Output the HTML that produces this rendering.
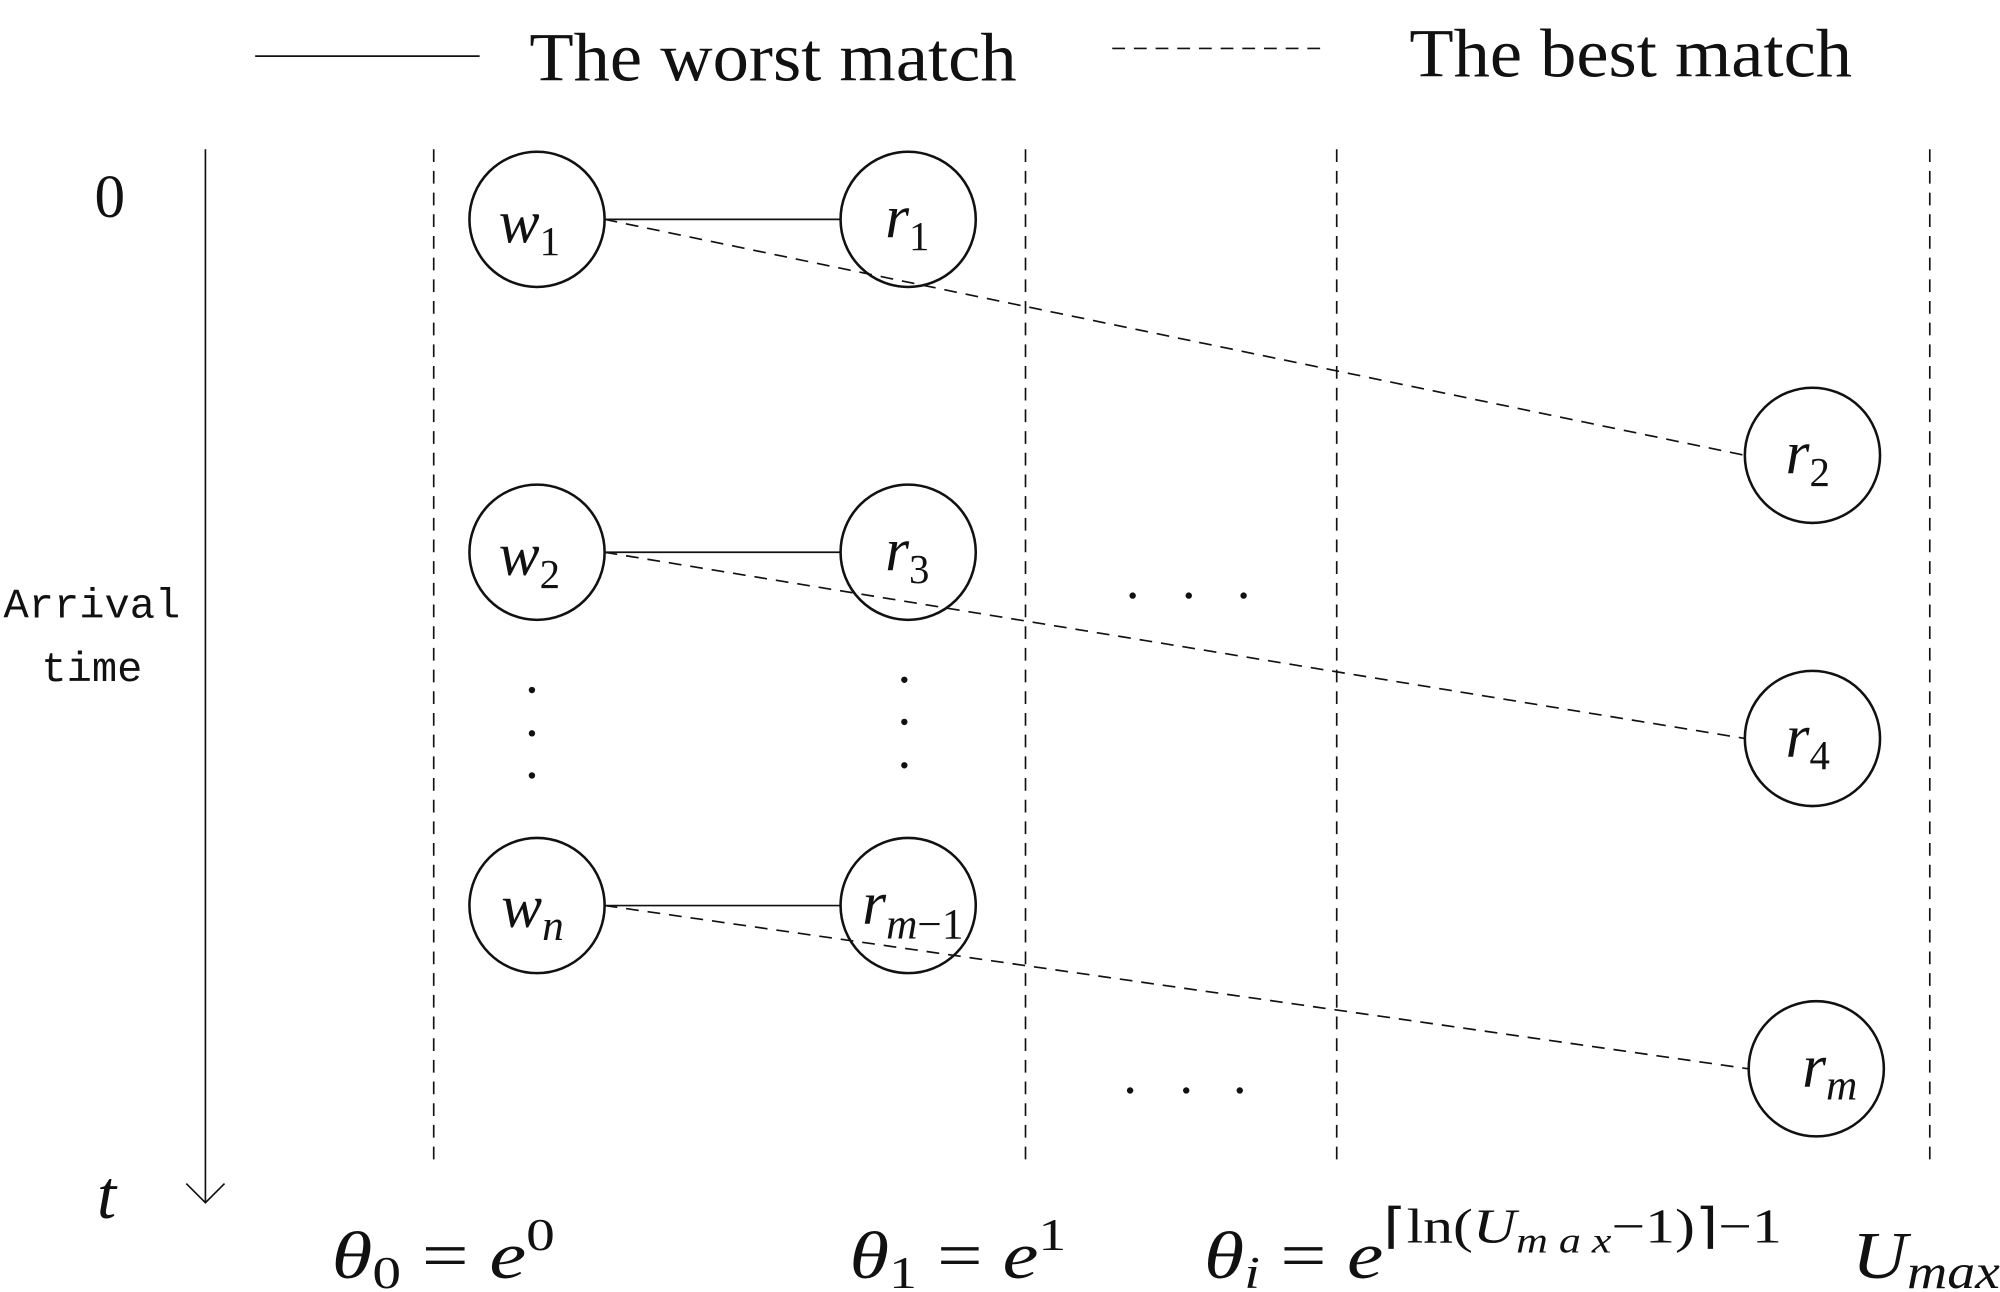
<!DOCTYPE html>
<html><head><meta charset="utf-8"><style>
html,body{margin:0;padding:0;background:#fff;}
svg{display:block;}
text{fill:#111;}
.s{font-family:"Liberation Serif",serif;}
.i{font-family:"Liberation Serif",serif;font-style:italic;}
.m{font-family:"Liberation Mono",monospace;}
.u{font-style:normal;}
</style></head><body>
<svg width="2000" height="1292" viewBox="0 0 1568 1013" xmlns="http://www.w3.org/2000/svg">
<g stroke="#111" stroke-width="1.3" fill="none">
<line x1="200" y1="44" x2="376" y2="44"/>
<line x1="872" y1="38" x2="1042" y2="38" stroke-dasharray="10,7"/>
<line x1="161" y1="117" x2="161" y2="943"/>
<polyline points="146,928 161,943 176,928"/>
<g stroke-dasharray="10,7">
<line x1="340" y1="117" x2="340" y2="915"/>
<line x1="804" y1="117" x2="804" y2="915"/>
<line x1="1048" y1="117" x2="1048" y2="915"/>
<line x1="1513" y1="117" x2="1513" y2="915"/>
<line x1="474" y1="172" x2="1368" y2="357"/>
<line x1="474" y1="433" x2="1368" y2="579"/>
<line x1="474" y1="710" x2="1371" y2="838"/>
</g>
<line x1="474" y1="172" x2="659" y2="172"/>
<line x1="474" y1="433" x2="659" y2="433"/>
<line x1="474" y1="710" x2="659" y2="710"/>
<g stroke-width="2">
<circle cx="421" cy="172" r="53"/><circle cx="712" cy="172" r="53"/>
<circle cx="1421" cy="357" r="53"/><circle cx="421" cy="433" r="53"/>
<circle cx="712" cy="433" r="53"/><circle cx="1421" cy="579" r="53"/>
<circle cx="421" cy="710" r="53"/><circle cx="712" cy="710" r="53"/>
<circle cx="1424" cy="838" r="53"/>
</g>
</g>
<g fill="#111">
<circle cx="417" cy="541" r="2.5"/><circle cx="417" cy="575" r="2.5"/><circle cx="417" cy="608" r="2.5"/>
<circle cx="709" cy="533" r="2.5"/><circle cx="709" cy="566" r="2.5"/><circle cx="709" cy="600" r="2.5"/>
<circle cx="888" cy="467" r="2.5"/><circle cx="932" cy="467" r="2.5"/><circle cx="975" cy="467" r="2.5"/>
<circle cx="886" cy="855" r="2.5"/><circle cx="930" cy="855" r="2.5"/><circle cx="972" cy="855" r="2.5"/>
</g>
<text class="s" x="415" y="63" font-size="54" textLength="382" lengthAdjust="spacingAndGlyphs">The worst match</text>
<text class="s" x="1105" y="60" font-size="54" textLength="347" lengthAdjust="spacingAndGlyphs">The best match</text>
<text class="s" x="74" y="170" font-size="48">0</text>
<text class="i" x="76" y="955" font-size="54">t</text>
<text class="m" x="72" y="484" font-size="33" text-anchor="middle">Arrival</text>
<text class="m" x="72" y="534" font-size="33" text-anchor="middle">time</text>
<g class="i" font-size="48">
<text x="391" y="190">w<tspan class="u" font-size="32" dy="10">1</tspan></text>
<text x="694" y="186">r<tspan class="u" font-size="32" dy="10">1</tspan></text>
<text x="1400" y="371">r<tspan class="u" font-size="32" dy="10">2</tspan></text>
<text x="391" y="451">w<tspan class="u" font-size="32" dy="10">2</tspan></text>
<text x="694" y="447">r<tspan class="u" font-size="32" dy="10">3</tspan></text>
<text x="1400" y="593">r<tspan class="u" font-size="32" dy="10">4</tspan></text>
<text x="393" y="727">w<tspan font-size="34" dy="10">n</tspan></text>
<text x="676" y="724">r<tspan font-size="34" dy="12">m<tspan class="u">−1</tspan></tspan></text>
<text x="1413" y="852">r<tspan font-size="34" dy="10">m</tspan></text>
</g>
<g font-size="52">
<text x="260" y="1002" textLength="175" lengthAdjust="spacingAndGlyphs"><tspan class="i">θ</tspan><tspan class="s" font-size="36" dy="8">0</tspan><tspan class="s" dy="-8"> = </tspan><tspan class="i">e</tspan><tspan class="s" font-size="36" dy="-22">0</tspan></text>
<text x="666" y="1002" textLength="170" lengthAdjust="spacingAndGlyphs"><tspan class="i">θ</tspan><tspan class="s" font-size="36" dy="8">1</tspan><tspan class="s" dy="-8"> = </tspan><tspan class="i">e</tspan><tspan class="s" font-size="36" dy="-22">1</tspan></text>
<text x="944" y="1002" textLength="453" lengthAdjust="spacingAndGlyphs"><tspan class="i">θ</tspan><tspan class="i" font-size="36" dy="8">i</tspan><tspan class="s" dy="-8"> = </tspan><tspan class="i">e</tspan><tspan class="s" font-size="38" dy="-28">⌈ln(</tspan><tspan class="i" font-size="38">U</tspan><tspan class="i" font-size="28" dy="8">m a x</tspan><tspan class="s" font-size="38" dy="-8">−1)⌉−1</tspan></text>
<text x="1452" y="1002" textLength="116" lengthAdjust="spacingAndGlyphs"><tspan class="i">U</tspan><tspan class="i" font-size="38" dy="8">max</tspan></text>
</g>
</svg>
</body></html>
